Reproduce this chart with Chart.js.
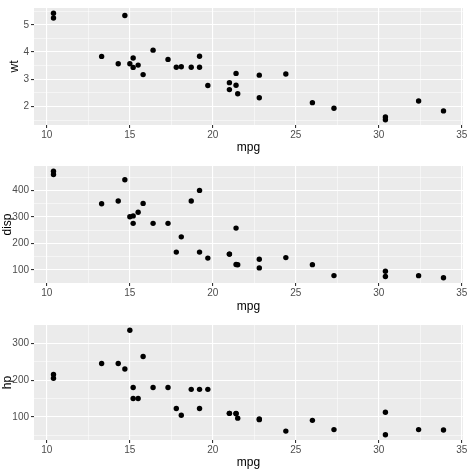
<!DOCTYPE html>
<html><head><meta charset="utf-8">
<script src="https://cdn.jsdelivr.net/npm/chart.js@4.4.1/dist/chart.umd.min.js"></script>
<style>
html,body{margin:0;padding:0;background:#fff;width:474px;height:476px;overflow:hidden;}
.c{position:absolute;left:0;width:474px;}
</style></head><body>
<div class="c" style="top:0;height:158px"><canvas id="c1"></canvas></div>
<div class="c" style="top:158px;height:159px"><canvas id="c2"></canvas></div>
<div class="c" style="top:317px;height:159px"><canvas id="c3"></canvas></div>
<script>
const mpg  = [21.0,21.0,22.8,21.4,18.7,18.1,14.3,24.4,22.8,19.2,17.8,16.4,17.3,15.2,10.4,10.4,14.7,32.4,30.4,33.9,21.5,15.5,15.2,13.3,19.2,27.3,26.0,30.4,15.8,19.7,15.0,21.4];
const wt   = [2.620,2.875,2.320,3.215,3.440,3.460,3.570,3.190,3.150,3.440,3.440,4.070,3.730,3.780,5.250,5.424,5.345,2.200,1.615,1.835,2.465,3.520,3.435,3.840,3.845,1.935,2.140,1.513,3.170,2.770,3.570,2.780];
const disp = [160,160,108,258,360,225,360,146.7,140.8,167.6,167.6,275.8,275.8,275.8,472,460,440,78.7,75.7,71.1,120.1,318,304,350,400,79,120.3,95.1,351,145,301,121];
const hp   = [110,110,93,110,175,105,245,62,95,123,123,180,180,180,205,215,230,66,52,65,97,150,150,245,175,66,91,113,264,175,335,109];

const xMajor = [10,15,20,25,30,35];
const xMinor = [12.5,17.5,22.5,27.5,32.5];
const wtMajor = [2,3,4,5];
const wtMinor = [1.5,2.5,3.5,4.5,5.5];
const dispMajor = [100,200,300,400];
const dispMinor = [150,250,350,450];
const hpMajor = [100,200,300];
const hpMinor = [50,150,250];

function range(arr){const mn=Math.min(...arr),mx=Math.max(...arr),e=(mx-mn)*0.05;return [mn-e,mx+e];}
const FONT = "'Liberation Sans', Arial, sans-serif";

function makeTicks(major, minor){
  return major.map(v=>({value:v,major:true})).concat(minor.map(v=>({value:v,major:false}))).sort((a,b)=>a.value-b.value);
}
const bgPlugin = {
  id:'bg',
  beforeDraw(chart){
    const a=chart.chartArea, ctx=chart.ctx;
    ctx.save(); ctx.fillStyle='#EBEBEB'; ctx.fillRect(a.left,a.top,a.right-a.left,a.bottom-a.top); ctx.restore();
  }
};

function makeChart(id, yData, yName, yMajor, yMinor, padBottom, axisH, padLeft){
  const xr = range(mpg), yr = range(yData);
  const majX = new Set(xMajor), majY = new Set(yMajor);
  const gridOpts = (set)=>({
    color:'#FFFFFF',
    lineWidth:(c)=> (c.tick && set.has(c.tick.value)) ? 1.1 : 0.5,
    tickColor:(c)=> (c.tick && set.has(c.tick.value)) ? '#333333' : 'rgba(0,0,0,0)',
    tickLength:3,
    drawOnChartArea:true,
    z:0
  });
  new Chart(document.getElementById(id), {
    type:'scatter',
    data:{datasets:[{data: mpg.map((x,i)=>({x:x,y:yData[i]})), backgroundColor:'#000', borderColor:'#000', pointRadius:2.7, pointHoverRadius:2.7, borderWidth:0}]},
    options:{
      responsive:true, maintainAspectRatio:false, animation:false,
      layout:{padding:{top:5,left:padLeft,right:11,bottom:padBottom}},
      plugins:{legend:{display:false},tooltip:{enabled:false}},
      scales:{
        x:{type:'linear',min:xr[0],max:xr[1],
          afterBuildTicks:(ax)=>{ax.ticks=makeTicks(xMajor,xMinor);},
          afterFit:(ax)=>{ax.height=axisH;},
          border:{display:false},
          grid:gridOpts(majX),
          ticks:{autoSkip:false,maxRotation:0,padding:1,color:'#4D4D4D',font:{family:FONT,size:10},
            callback:(v)=> majX.has(v) ? String(v) : ''},
          title:{display:true,text:'mpg',color:'#000',font:{family:FONT,size:12},padding:{top:0,bottom:0}}
        },
        y:{type:'linear',min:yr[0],max:yr[1],
          afterBuildTicks:(ax)=>{ax.ticks=makeTicks(yMajor,yMinor);},
          afterFit:(ax)=>{ax.width=34-padLeft;},
          border:{display:false},
          grid:gridOpts(majY),
          ticks:{autoSkip:false,padding:2,color:'#4D4D4D',font:{family:FONT,size:10},
            callback:(v)=> majY.has(v) ? String(v) : ''},
          title:{display:true,text:yName,color:'#000',font:{family:FONT,size:12},padding:{top:0,bottom:0}}
        }
      }
    },
    plugins:[bgPlugin]
  });
}
makeChart('c1', wt, 'wt', wtMajor, wtMinor, 3, 30, 7);
makeChart('c2', disp, 'disp', dispMajor, dispMinor, 3, 31, 0);
makeChart('c3', hp, 'hp', hpMajor, hpMinor, 6, 30, 0);
</script>
</body></html>
